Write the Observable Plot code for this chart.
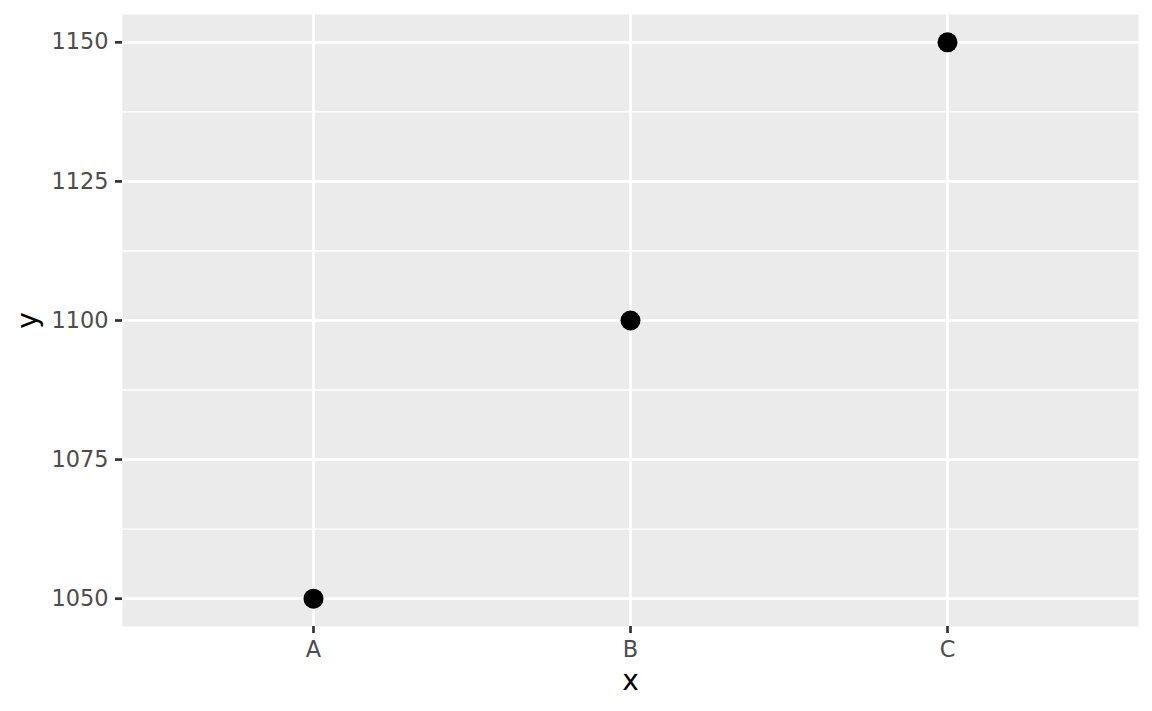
<!DOCTYPE html>
<html>
<head>
<meta charset="utf-8">
<script src="https://cdn.jsdelivr.net/npm/d3@7"></script>
<script src="https://cdn.jsdelivr.net/npm/@observablehq/plot@0.6"></script>
<style>
  html, body { margin: 0; padding: 0; background: #fff; }
  svg { display: block; }
</style>
</head>
<body>
<div id="chart"></div>
<script>
const categories = ["A", "B", "C"];
const values = [1050, 1100, 1150];
const yTicks = [1050, 1075, 1100, 1125, 1150];
const yMinor = [1062.5, 1087.5, 1112.5, 1137.5];
const xLabel = "x";
const yLabel = "y";

const data = categories.map((c, i) => ({x: c, y: values[i]}));
const font = "DejaVu Sans";

const chart = Plot.plot({
  width: 1152,
  height: 711,
  marginLeft: 122,
  marginRight: 14,
  marginTop: 14,
  marginBottom: 85,
  style: {fontFamily: font, background: "#fff"},
  x: {type: "point", domain: categories, padding: 0.6},
  y: {domain: [1045, 1155]},
  marks: [
    Plot.frame({fill: "#EBEBEB", stroke: null}),
    Plot.ruleY(yMinor, {stroke: "#fff", strokeWidth: 1.35}),
    Plot.ruleY(yTicks, {stroke: "#fff", strokeWidth: 2.7}),
    Plot.ruleX(categories, {stroke: "#fff", strokeWidth: 2.7}),
    Plot.axisY(yTicks, {ticks: yTicks, text: null, tickSize: 7, stroke: "#333333", strokeWidth: 2.7, label: null}),
    Plot.axisY(yTicks, {ticks: yTicks, tickSize: 0, tickPadding: 14, fill: "#4D4D4D", fontSize: 22.4, label: null, tickFormat: d => String(d)}),
    Plot.axisX(categories, {text: null, tickSize: 7, stroke: "#333333", strokeWidth: 2.7, label: null}),
    Plot.axisX(categories, {tickSize: 0, tickPadding: 14.3, fill: "#4D4D4D", fontSize: 22.4, label: null, lineAnchor: "top"}),
    Plot.dot(data, {x: "x", y: "y", r: 10, fill: "#000"}),
    Plot.text([xLabel], {frameAnchor: "bottom", lineAnchor: "middle", textAnchor: "middle", dy: 55, text: d => d, fontSize: 28, fill: "#000"}),
    Plot.text([yLabel], {frameAnchor: "left", lineAnchor: "middle", textAnchor: "middle", dx: -94, rotate: -90, text: d => d, fontSize: 28, fill: "#000"})
  ]
});
document.getElementById("chart").appendChild(chart);
</script>
</body>
</html>
